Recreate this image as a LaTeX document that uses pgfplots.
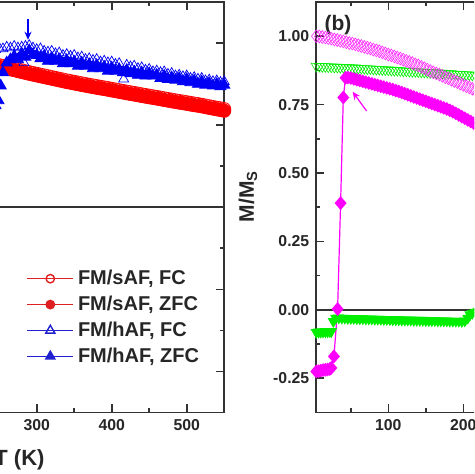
\documentclass[border=0pt]{standalone}
\usepackage{fontspec}
\setmainfont{Liberation Sans}
\usepackage{pgfplots}
\pgfplotsset{compat=1.18}
\usepackage{pgfplotstable}
\usetikzlibrary{arrows.meta}

\definecolor{axcol}{HTML}{333333}
\definecolor{myred}{HTML}{FF0000}
\definecolor{legred}{HTML}{E02020}
\definecolor{myblue}{HTML}{0000F5}
\definecolor{legblue}{HTML}{2020D0}
\definecolor{mymag}{HTML}{FF00FF}
\definecolor{mygreen}{HTML}{00EE00}

% ---------- left panel data (FM/sAF, FM/hAF) ----------
\pgfplotstableread{
T M
240 1.730
245 1.720
250 1.710
255 1.700
260 1.690
265 1.680
270 1.669
275 1.658
280 1.647
285 1.636
290 1.625
295 1.615
300 1.605
305 1.595
310 1.585
315 1.575
320 1.565
325 1.555
330 1.545
335 1.535
340 1.525
345 1.516
350 1.507
355 1.498
360 1.489
365 1.480
370 1.472
375 1.463
380 1.455
385 1.447
390 1.439
395 1.431
400 1.422
405 1.414
410 1.405
415 1.397
420 1.388
425 1.380
430 1.372
435 1.364
440 1.355
445 1.347
450 1.339
455 1.331
460 1.323
465 1.315
470 1.306
475 1.298
480 1.290
485 1.282
490 1.274
495 1.267
500 1.259
505 1.251
510 1.243
515 1.236
520 1.228
525 1.219
530 1.210
535 1.201
540 1.192
545 1.184
550 1.175
}\sAFZFC

\pgfplotstableread{
T M
240 1.750
245 1.740
250 1.730
255 1.720
260 1.710
265 1.700
270 1.689
275 1.678
280 1.667
285 1.656
290 1.645
295 1.635
300 1.625
305 1.615
310 1.605
315 1.595
320 1.585
325 1.575
330 1.565
335 1.555
340 1.545
345 1.536
350 1.527
355 1.518
360 1.509
365 1.500
370 1.492
375 1.483
380 1.475
385 1.467
390 1.459
395 1.451
400 1.442
405 1.434
410 1.425
415 1.417
420 1.408
425 1.400
430 1.392
435 1.384
440 1.375
445 1.367
450 1.359
455 1.351
460 1.343
465 1.335
470 1.326
475 1.318
480 1.310
485 1.302
490 1.294
495 1.287
500 1.279
505 1.271
510 1.263
515 1.256
520 1.248
525 1.239
530 1.230
535 1.221
540 1.212
545 1.204
550 1.195
}\sAFFC

\pgfplotstableread{
T M
240 1.10
245 1.24
249 1.30
252 1.48
255 1.64
260 1.76
265 1.80
270 1.84
275 1.80
280 1.87
285 1.83
290 1.91
295 1.86
300 1.85
305 1.81
310 1.84
315 1.78
320 1.82
325 1.78
330 1.80
335 1.75
340 1.79
345 1.75
350 1.77
355 1.72
360 1.76
365 1.72
370 1.74
375 1.69
380 1.73
385 1.69
390 1.71
395 1.66
400 1.70
405 1.66
410 1.68
415 1.64
420 1.67
425 1.63
430 1.65
435 1.61
440 1.64
445 1.60
450 1.63
455 1.60
460 1.61
465 1.57
470 1.60
475 1.56
480 1.58
485 1.55
490 1.57
495 1.53
500 1.56
505 1.52
510 1.54
515 1.50
520 1.53
525 1.49
530 1.51
535 1.48
540 1.50
545 1.47
550 1.49
}\hAFZFC

\pgfplotstableread{
T M
245 1.92
250 1.94
255 1.93
260 1.95
265 1.94
270 1.96
275 1.94
280 1.95
283 1.76
285 1.96
290 1.97
295 1.94
300 1.92
305 1.93
310 1.90
315 1.89
320 1.90
325 1.87
330 1.88
335 1.85
340 1.86
345 1.84
350 1.85
355 1.82
360 1.83
365 1.80
370 1.81
375 1.79
380 1.80
385 1.77
390 1.78
395 1.76
400 1.77
405 1.74
410 1.75
416 1.56
420 1.73
425 1.71
430 1.72
435 1.69
440 1.70
445 1.67
450 1.68
455 1.65
460 1.66
465 1.64
470 1.65
475 1.62
480 1.63
485 1.60
490 1.61
495 1.59
500 1.60
505 1.57
510 1.58
515 1.56
520 1.57
525 1.54
530 1.55
535 1.53
540 1.54
545 1.52
550 1.53
}\hAFFC

% ---------- right panel data ----------
\pgfplotstableread{
T M
4 1.000
8 0.999
12 0.997
16 0.995
20 0.993
24 0.991
28 0.988
32 0.986
36 0.983
40 0.981
44 0.978
48 0.975
52 0.973
56 0.970
60 0.967
64 0.964
68 0.961
72 0.958
76 0.955
80 0.951
84 0.948
88 0.945
92 0.941
96 0.937
100 0.933
104 0.930
108 0.926
112 0.922
116 0.918
120 0.914
124 0.910
128 0.906
132 0.902
136 0.897
140 0.893
144 0.888
148 0.883
152 0.878
156 0.873
160 0.868
164 0.864
168 0.860
172 0.855
176 0.850
180 0.846
184 0.841
188 0.836
192 0.832
196 0.827
200 0.822
204 0.817
208 0.813
212 0.808
216 0.803
220 0.798
224 0.793
228 0.788
}\magFC

\pgfplotstableread{
T M
4 0.890
8 0.890
12 0.889
16 0.889
20 0.888
24 0.888
28 0.887
32 0.887
36 0.886
40 0.886
44 0.885
48 0.885
52 0.884
56 0.884
60 0.883
64 0.883
68 0.882
72 0.881
76 0.881
80 0.880
84 0.879
88 0.879
92 0.878
96 0.877
100 0.877
104 0.876
108 0.875
112 0.875
116 0.874
120 0.873
124 0.873
128 0.872
132 0.871
136 0.871
140 0.870
144 0.869
148 0.869
152 0.868
156 0.867
160 0.867
164 0.866
168 0.865
172 0.865
176 0.864
180 0.863
184 0.863
188 0.862
192 0.861
196 0.861
200 0.860
204 0.859
208 0.859
212 0.858
216 0.857
220 0.857
224 0.856
228 0.855
}\grnFC

\pgfplotstableread{
T M
4 -0.225
7 -0.224
10 -0.222
13 -0.220
16 -0.219
19 -0.218
22 -0.216
24 -0.212
27.5 -0.170
32.4 0.003
36.4 0.390
40 0.776
43 0.848
46 0.849
50 0.847
54 0.844
58 0.841
62 0.838
66 0.835
70 0.832
74 0.829
78 0.826
82 0.823
86 0.820
90 0.817
94 0.814
98 0.811
102 0.808
106 0.805
110 0.801
114 0.798
118 0.794
122 0.790
126 0.786
130 0.782
134 0.778
138 0.774
142 0.770
146 0.766
150 0.762
154 0.758
158 0.754
162 0.750
166 0.746
170 0.742
174 0.738
178 0.734
182 0.729
186 0.724
190 0.718
194 0.712
198 0.706
202 0.700
206 0.694
210 0.688
214 0.682
218 0.676
222 0.670
226 0.664
}\magZFC

\pgfplotstableread{
T M
4 -0.082
7 -0.081
10 -0.081
13 -0.080
16 -0.080
19 -0.080
22 -0.079
24 -0.079
26.7 -0.042
30 -0.030
34 -0.029
38 -0.030
42 -0.030
46 -0.031
50 -0.031
54 -0.031
58 -0.032
62 -0.032
66 -0.032
70 -0.033
74 -0.033
78 -0.033
82 -0.034
86 -0.034
90 -0.034
94 -0.035
98 -0.035
102 -0.035
106 -0.036
110 -0.036
114 -0.036
118 -0.037
122 -0.037
126 -0.037
130 -0.037
134 -0.038
138 -0.038
142 -0.038
146 -0.038
150 -0.039
154 -0.039
158 -0.039
162 -0.039
166 -0.040
170 -0.040
174 -0.040
178 -0.040
182 -0.041
186 -0.041
190 -0.041
194 -0.041
198 -0.042
202 -0.040
206 -0.030
209 -0.018
212 -0.012
216 -0.008
220 -0.005
}\grnZFC

\pgfplotsset{
  panel/.style={
    scale only axis, width=204.75pt, height=205.25pt,
    xmin=4, xmax=550,
    axis line style={axcol, line width=0.9pt},
    tick style={axcol, line width=0.8pt},
    tick align=inside,
    major tick length=4pt, minor tick length=2pt,
    xtick={0,100,...,500}, minor x tick num=1,
    tick label style={font=\fontsize{7.9}{9}\selectfont\bfseries, text=black!85},
    /pgf/number format/assume math mode=true,
  },
}

\begin{document}
\begin{tikzpicture}
\begin{scope}
\clip (0,0) rectangle (237pt,237pt);

% ================= left panel =================
\begin{axis}[panel, at={(112.1pt,30.75pt)}, anchor=south east,
  ymin=-2.5, ymax=2.5, ytick={-2,-1,0,1,2}, minor y tick num=1,
  yticklabels={}, xticklabels={,,,300,400,500},
  xlabel={T (K)},
  xlabel style={font=\fontsize{11}{13}\selectfont\bfseries, text=black!85,
    at={(axis description cs:0.5,0)}, anchor=base, yshift=-26.6pt},
  legend style={at={(axis cs:286,-0.71)}, anchor=north west, draw=none, fill=none,
    font=\fontsize{10}{11}\selectfont\bfseries, text=black!85, row sep=0.2pt,
    inner sep=0pt},
  legend cell align=left,
  legend image code/.code={\draw[mark repeat=2,mark phase=2,#1] plot coordinates {(0pt,0pt) (11.5pt,0pt) (23pt,0pt)};},
]
\draw[axcol, line width=0.9pt] (axis cs:4,0) -- (axis cs:550,0);

\addplot[forget plot, only marks, mark=o, mark size=3.3pt, myred, line width=0.4pt, mark options={fill=white}] table {\sAFFC};
\addplot[forget plot, only marks, mark=*, mark size=3.3pt, myred, draw=myred] table {\sAFZFC};
\addplot[forget plot, only marks, mark=triangle, mark size=2.9pt, myblue, line width=0.35pt, mark options={fill=white}] table {\hAFFC};
\addplot[forget plot, only marks, mark=triangle*, mark size=3.2pt, myblue, draw=myblue] table {\hAFZFC};

\draw[-{Stealth[length=4pt,width=3.5pt]}, myblue, line width=0.7pt] (axis cs:288.4,2.29) -- (axis cs:288.4,2.04);

\addlegendimage{legred, line width=0.7pt, mark=o, mark size=2.1pt, mark options={fill=white, solid}}
\addlegendentry{FM/sAF, FC}
\addlegendimage{legred, line width=0.7pt, mark=*, mark size=2.1pt}
\addlegendentry{FM/sAF, ZFC}
\addlegendimage{legblue, line width=0.7pt, mark=triangle, mark size=2.6pt, mark options={fill=white}}
\addlegendentry{FM/hAF, FC}
\addlegendimage{legblue, line width=0.7pt, mark=triangle*, mark size=2.6pt}
\addlegendentry{FM/hAF, ZFC}
\end{axis}

% ================= right panel =================
\begin{axis}[panel, at={(158.15pt,30.75pt)}, anchor=south west,
  ymin=-0.375, ymax=1.125, ytick={-0.25,0,0.25,0.5,0.75,1}, minor y tick num=1,
  yticklabel style={/pgf/number format/.cd, fixed, fixed zerofill, precision=2},
  xticklabels={,100,200},
]
\draw[axcol, line width=0.9pt] (axis cs:4,0) -- (axis cs:550,0);

\addplot[only marks, mark=triangle, mark size=2.9pt, mygreen, line width=0.3pt, mark options={fill=white, rotate=180}] table {\grnFC};
\addplot[only marks, mark=diamond, mark size=3.2pt, mymag!85, line width=0.3pt, mark options={fill=white}] table {\magFC};
\addplot[only marks, mark=triangle*, mark size=2.9pt, mygreen, mark options={rotate=180}] table {\grnZFC};
\addplot[mymag, line width=0.6pt, mark=diamond*, mark size=3pt, mark options={xscale=1.15, solid}] table {\magZFC};

\draw[-{Stealth[length=4pt,width=3.5pt]}, mymag, line width=0.6pt] (axis cs:71,0.727) -- (axis cs:52.4,0.797);

\node[font=\fontsize{10.5}{12}\selectfont\bfseries, text=black!85] at (axis cs:33,1.04) {(b)};
\end{axis}

\node[rotate=90, font=\fontsize{10.5}{12}\selectfont\bfseries, text=black!85] at (124pt,138.75pt) {M/M\textsubscript{S}};
\end{scope}
\pgfresetboundingbox
\useasboundingbox (0,0) rectangle (237pt,237pt);
\end{tikzpicture}
\end{document}
